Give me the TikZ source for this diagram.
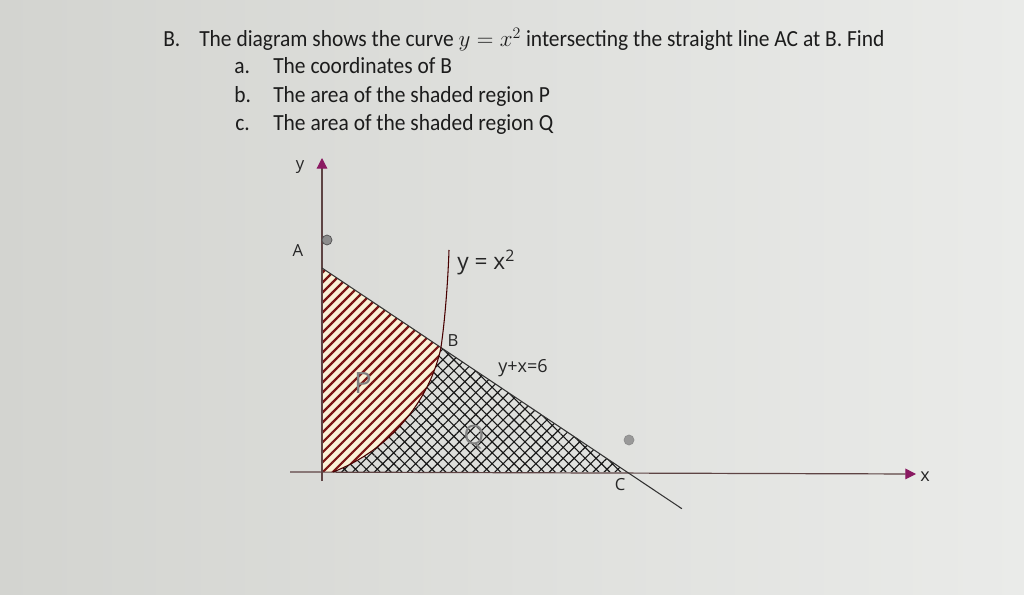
\documentclass[tikz,border=0pt]{standalone}
\usepackage{fontspec}
\setmainfont{Carlito}[FakeStretch=0.93]
\newfontfamily\lblfont{Open Sans}
\usetikzlibrary{arrows.meta,patterns.meta,calc}
\definecolor{bgL}{HTML}{D3D4D0}
\definecolor{bgR}{HTML}{EAEBE9}
\definecolor{axisc}{HTML}{5E4444}
\definecolor{arrowc}{HTML}{8A1A62}
\definecolor{hatchred}{HTML}{7A1414}
\definecolor{cream}{HTML}{FBF1D6}
\definecolor{txt}{HTML}{1C1C1C}
\definecolor{lbl}{HTML}{262626}
\begin{document}
\begin{tikzpicture}[x=0.75pt,y=-0.75pt,
  title/.style={anchor=base west,text=txt,inner sep=0pt,font=\fontsize{17.3}{20}\selectfont},
  lab/.style={text=lbl,inner sep=0pt,font=\lblfont\fontsize{12.5}{14}\selectfont},
  region/.style={text=black!50,draw=none,inner sep=0pt,font=\lblfont\fontsize{22}{24}\selectfont},
  axis/.style={draw=axisc,line width=0.9pt,-{Triangle[length=8pt,width=8pt,color=arrowc]}},
  dot/.style={circle,inner sep=0pt,minimum size=7.5pt,fill=black!45,draw=black!70,line width=0.5pt},
  curve/.style={draw=black!60!red!70!black,line width=0.8pt},
  lineAC/.style={draw=black!80,line width=0.8pt}]
\useasboundingbox (0,0) rectangle (1024,595);
\shade[left color=bgL,right color=bgR] (0,0) rectangle (1024,595);

% question text
\node[title] (tB) at (163,47) {B.};
\node[title] (t1) at (199,47) {The diagram shows the curve $y = x^2$ intersecting the straight line AC at B. Find};
\node[title] (la) at (234,74) {a.};
\node[title] (ta) at (273,74) {The coordinates of B};
\node[title] (lb) at (234,103) {b.};
\node[title] (tb) at (273,103) {The area of the shaded region P};
\node[title] (lc) at (235,131) {c.};
\node[title] (tc) at (273,131) {The area of the shaded region Q};

% key points
\coordinate (O) at (322,472);
\coordinate (A) at (322,268);
\coordinate (C) at (627,472);
\coordinate (B) at ($(A)!0.39!(C)$);
\coordinate (S) at (333,472);
\coordinate (E) at ($(A)!1.18!(C)$);
\coordinate (T) at (449,250);
\coordinate (ybot) at (322,481);
\coordinate (ytop) at (322,158);
\coordinate (xl) at (290,472);
\coordinate (xr) at (916,474);

% region Q (cross hatch)
\fill[pattern={Hatch[angle=45,distance=5.8pt,line width=0.85pt]},pattern color=black!90]
  (S) .. controls (390,450) and (430,400) .. (B) -- (C) -- cycle;
% region P (red lines)
\fill[cream] (O) -- (A) -- (B) .. controls (430,400) and (390,450) .. (S) -- cycle;
\fill[pattern={Lines[angle=45,distance=5.3pt,line width=1.7pt]},pattern color=hatchred]
  (O) -- (A) -- (B) .. controls (430,400) and (390,450) .. (S) -- cycle;

% axes
\draw[axis] (ybot) -- (ytop);
\draw[axis] (xl) -- (xr);

% line AC and curve
\draw[lineAC] (A) -- (E);
\draw[curve] (S) .. controls (390,450) and (430,400) .. (B) .. controls (445,320) and (448,280) .. (T);

% dots
\node[dot] (dA) at (327,240) {};
\node[dot,fill=black!40,draw=black!45] (dC) at (629,440) {};

% labels
\node[lab] (ly) at (300,167) {y};
\node[lab] (lA) at (298,251) {A};
\node[lab,anchor=base west,font=\lblfont\fontsize{17}{20}\selectfont] (lcurve) at (457,270) {y = x\textsuperscript{2}};
\node[lab] (lB) at (453,341) {B};
\node[lab,font=\lblfont\fontsize{13.5}{15}\selectfont] (lline) at (523,368) {y+x=6};
\node[region] (lP) at (363,383) {P};
\node[region,font=\lblfont\fontsize{20}{22}\selectfont] (lQ) at (474,437) {Q};
\node[lab] (lC) at (620,485) {C};
\node[lab,font=\lblfont\fontsize{13.5}{15}\selectfont] (lx) at (925,477) {x};
\end{tikzpicture}
\end{document}
